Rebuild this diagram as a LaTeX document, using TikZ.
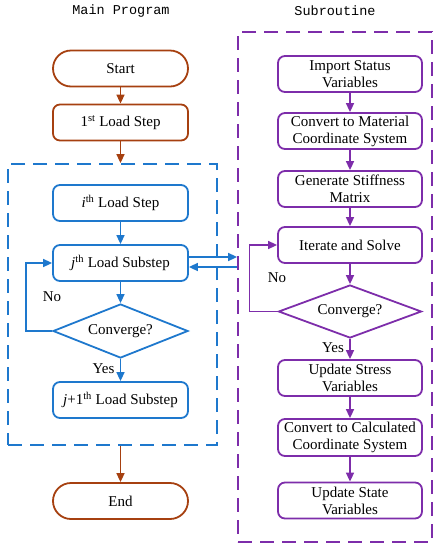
\documentclass[tikz,border=0pt]{standalone}
\usepackage{fontspec}
\setmainfont{Liberation Serif}
\setmonofont{Liberation Mono}
\usetikzlibrary{shapes.geometric,arrows.meta}
\definecolor{mainbrown}{RGB}{166,64,16}
\definecolor{loopblue}{RGB}{30,120,205}
\definecolor{subpurple}{RGB}{125,45,170}

\tikzset{
  flowbox/.style={draw, line width=1.8pt, rounded corners=7pt, minimum width=135pt,
    minimum height=36pt, align=center, inner sep=1pt, font=\fontsize{15}{17}\selectfont},
  subbox/.style={flowbox, minimum width=144pt},
  termbox/.style={flowbox, rounded corners=18pt},
  decision/.style={diamond, draw, line width=1.8pt, aspect=2.5, inner sep=0pt,
    minimum width=135pt, minimum height=54pt, font=\fontsize{15}{17}\selectfont},
  flowarrow/.style={line width=1.6pt, -{Triangle[length=9pt,width=8pt]}},
  dashframe/.style={draw, line width=1.8pt, dash pattern=on 14pt off 8pt, inner sep=0pt},
  title/.style={font=\ttfamily\fontsize{13.5}{15}\selectfont},
  tag/.style={text=black, font=\fontsize{15}{17}\selectfont}
}

\begin{document}
\begin{tikzpicture}[x=1pt, y=-1pt]
        \useasboundingbox (0,0) rectangle (441,550);

        % Titles of the two columns
        \node[title] (maintitle) at (121,11) {Main Program};
        \node[title] (subtitle) at (335,11) {Subroutine};

        % Draw the dashed frames
        \node[dashframe, draw=loopblue, minimum width=209pt, minimum height=281pt] (mainframe) at (112.5,304.5) {};
        \node[dashframe, draw=subpurple, minimum width=194pt, minimum height=510pt] (subframe) at (335,287) {};

        % Draw the main program
        \node[termbox, draw=mainbrown] (start) at (120.5,68.5) {Start};
        \node[flowbox, draw=mainbrown] (first) at (120.5,122.5) {1\textsuperscript{st} Load Step};
        \node[flowbox, draw=loopblue] (ith) at (120.5,203) {\textit{i}\textsuperscript{th} Load Step};
        \node[flowbox, draw=loopblue] (jsub) at (120.5,263) {\textit{j}\textsuperscript{th} Load Substep};
        \node[decision, draw=loopblue] (conv1) at (120.5,331) {Converge?};
        \node[flowbox, draw=loopblue] (jnext) at (120.5,400) {\textit{j}+1\textsuperscript{th} Load Substep};
        \node[termbox, draw=mainbrown] (theend) at (120.5,501) {End};

        \draw[flowarrow, mainbrown] (start) -- (first);
        \draw[flowarrow, mainbrown] (first.south) -- (first.south |- mainframe.north);
        \draw[flowarrow, mainbrown] (mainframe.south -| theend.north) -- (theend.north);
        \draw[flowarrow, loopblue] (ith) -- (jsub);
        \draw[flowarrow, loopblue] (jsub) -- (conv1);
        \draw[flowarrow, loopblue] (conv1) -- (jnext) node[tag, pos=0.45, left, xshift=-2pt] (yes1) {Yes};
        \draw[flowarrow, loopblue] (conv1.west) -- ++(-26,0) |- (jsub.west);
        \node[tag] (no1) at (52,297) {No};

        % Calls between main program and subroutine
        \draw[flowarrow, loopblue] ([yshift=6pt]jsub.east) -- ([yshift=6pt]jsub.east -| subframe.west);
        \draw[flowarrow, loopblue] ([yshift=-4pt]jsub.east -| subframe.west) -- ([yshift=-4pt]jsub.east);

        % Draw the subroutine
        \node[subbox, draw=subpurple] (import) at (350,74) {Import Status\\Variables};
        \node[subbox, draw=subpurple] (tomat) at (350,131) {Convert to Material\\Coordinate System};
        \node[subbox, draw=subpurple] (stiff) at (350,189) {Generate Stiffness\\Matrix};
        \node[subbox, draw=subpurple] (iter) at (350,245) {Iterate and Solve};
        \node[decision, draw=subpurple, minimum width=143pt, minimum height=53pt] (conv2) at (350,311.5) {Converge?};
        \node[subbox, draw=subpurple] (stress) at (350,378) {Update Stress\\Variables};
        \node[subbox, draw=subpurple, minimum height=37pt] (tocalc) at (350,437.5) {Convert to Calculated\\Coordinate System};
        \node[subbox, draw=subpurple] (state) at (350,500.5) {Update State\\Variables};

        \draw[flowarrow, subpurple] (import) -- (tomat);
        \draw[flowarrow, subpurple] (tomat) -- (stiff);
        \draw[flowarrow, subpurple] (stiff) -- (iter);
        \draw[flowarrow, subpurple] (iter) -- (conv2);
        \draw[flowarrow, subpurple] (conv2) -- (stress) node[tag, pos=0.45, left, xshift=-2pt] (yes2) {Yes};
        \draw[flowarrow, subpurple] (stress) -- (tocalc);
        \draw[flowarrow, subpurple] (tocalc) -- (state);
        \draw[flowarrow, subpurple] (conv2.west) -- ++(-28,0) |- (iter.west);
        \node[tag] (no2) at (277,278) {No};

    \end{tikzpicture}
\end{document}
